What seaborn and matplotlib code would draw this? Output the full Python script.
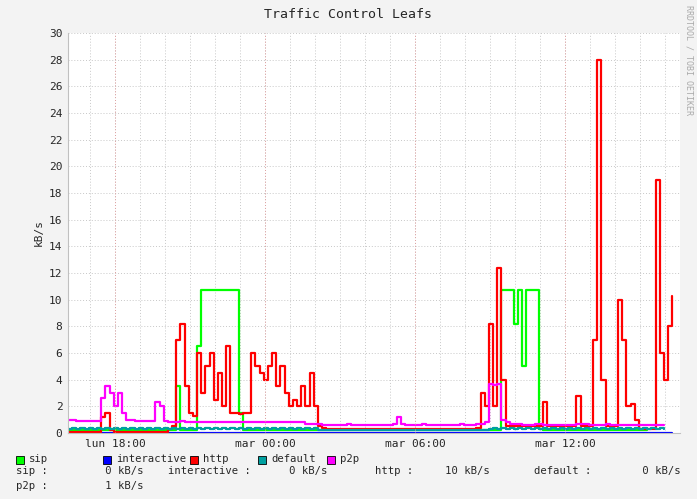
import matplotlib
matplotlib.use("Agg")
import matplotlib.pyplot as plt
import seaborn as sns
import pandas as pd
import numpy as np
from matplotlib.patches import Rectangle

sns.set_style("white")
plt.rcParams['font.family'] = ['DejaVu Sans Mono']

start_hour = 16.12
step_h = 1/6  # 10-minute bins

http = [0.1,0.1,0.1,0.1,0.1,0.1,0.1,0.1,1.2,1.5,0.2,0.1,0.1,0.1,0.1,0.1,0.1,0.1,0.1,0.1,
        0.1,0.1,0.1,0.1,0.3,0.5,7.0,8.2,3.5,1.5,1.3,6.0,3.0,5.0,6.0,2.5,4.5,2.0,6.5,1.5,
        1.5,1.4,1.5,1.5,6.0,5.0,4.5,4.0,5.0,6.0,3.5,5.0,3.0,2.0,2.5,2.0,3.5,2.0,4.5,2.0,
        0.5,0.4,0.3,0.3,0.3,0.3,0.3,0.3,0.3,0.3,0.3,0.3,0.3,0.3,0.3,0.3,0.3,0.3,0.3,0.3,
        0.3,0.3,0.3,0.3,0.3,0.3,0.3,0.3,0.3,0.3,0.3,0.3,0.3,0.3,0.3,0.3,0.3,0.3,0.4,3.0,
        2.0,8.2,2.0,12.4,4.0,0.5,0.5,0.5,0.5,0.5,0.5,0.5,0.5,0.5,2.3,0.5,0.5,0.5,0.5,0.5,
        0.5,0.5,2.8,0.5,0.5,0.5,7.0,28.0,4.0,0.5,0.5,0.5,10.0,7.0,2.0,2.2,1.0,0.3,0.3,0.3,
        0.3,19.0,6.0,4.0,8.0,10.3]
sip = [0.2]*26 + [3.5,0.2,0.2,0.2,0.2,6.5,10.7,10.7,10.7,10.7,10.7,10.7,10.7,10.7,10.7,1.5] \
      + [0.2]*62 + [10.7,10.7,10.7,8.2,10.7,5.0,10.7,10.7,10.7,0.3] + [0.2]*26
p2p = [1.0,1.0,0.9,0.9,0.9,0.9,0.9,0.9,2.6,3.5,3.0,2.0,3.0,1.5,1.0,1.0,0.9,0.9,0.9,0.9,
       0.9,2.3,2.0,0.9,0.8,0.8,0.8,0.9,0.8,0.8,0.8,0.8,0.8,0.8,0.8,0.8,0.8,0.8,0.8,0.8,
       0.8,0.8,0.8,0.8,0.8,0.8,0.8,0.8,0.8,0.8,0.8,0.8,0.8,0.8,0.8,0.8,0.8,0.7,0.7,0.7,
       0.7,0.6,0.6,0.6,0.6,0.6,0.6,0.7,0.6,0.6,0.6,0.6,0.6,0.6,0.6,0.6,0.6,0.6,0.7,1.2,
       0.7,0.6,0.6,0.6,0.6,0.7,0.6,0.6,0.6,0.6,0.6,0.6,0.6,0.6,0.7,0.6,0.6,0.6,0.7,0.7,
       0.8,3.7,3.6,3.7,1.0,0.8,0.7,0.7,0.7,0.6,0.6,0.6,0.7,0.7,0.6,0.6,0.6,0.6,0.6,0.6,
       0.6,0.6,0.7,0.7,0.7,0.6,0.6,0.6,0.6,0.7,0.6,0.6,0.6,0.6,0.6,0.6,0.6,0.6,0.6,0.6,
       0.6,0.6,0.6,0.6]
default = [0.3,0.4,0.3,0.4,0.3,0.4,0.3,0.4,0.3,0.4,0.3,0.4,0.3,0.4,0.3,0.4,0.3,0.4,0.3,0.4,
           0.3,0.4,0.3,0.4,0.3,0.4,0.3,0.4,0.3,0.4,0.3,0.4,0.3,0.4,0.3,0.4,0.3,0.4,0.3,0.4,
           0.3,0.4,0.3,0.4,0.3,0.4,0.3,0.4,0.3,0.4,0.3,0.4,0.3,0.4,0.3,0.4,0.3,0.4,0.3,0.4,
           0.2,0.2,0.2,0.2,0.2,0.2,0.2,0.2,0.2,0.2,0.2,0.2,0.2,0.2,0.2,0.2,0.2,0.2,0.2,0.2,
           0.2,0.2,0.2,0.2,0.2,0.2,0.2,0.2,0.2,0.2,0.2,0.2,0.2,0.2,0.2,0.2,0.2,0.2,0.2,0.2,
           0.2,0.3,0.4,0.3,0.4,0.3,0.4,0.3,0.4,0.3,0.4,0.3,0.4,0.3,0.4,0.3,0.4,0.3,0.4,0.3,
           0.4,0.3,0.4,0.3,0.4,0.3,0.4,0.3,0.4,0.3,0.4,0.3,0.4,0.3,0.4,0.3,0.4,0.3,0.4,0.3,
           0.4,0.3,0.4,0.3]
interactive = [0.02]*len(http)

series_names = ["sip", "interactive", "http", "default", "p2p"]
series_colors = ["#00ff00", "#0000ff", "#ff0000", "#00a0a0", "#ff00ff"]
series_vals = [sip, interactive, http, default, p2p]
legend_text = ["sip :         0 kB/s", "interactive :      0 kB/s", "http :     10 kB/s",
               "default :        0 kB/s", "p2p :         1 kB/s"]
xtick_pos = [18, 24, 30, 36]
xtick_labels = ["lun 18:00", "mar 00:00", "mar 06:00", "mar 12:00"]

rows = []
for name, vals in zip(series_names, series_vals):
    for i, v in enumerate(vals):
        rows.append({"t": start_hour + i*step_h, "v": v, "s": name})
df = pd.DataFrame(rows)

fig = plt.figure(figsize=(6.97, 4.99), dpi=100, facecolor="#f3f3f3")
ax = fig.add_axes([68/697, 66/499, 612/697, 400/499])
ax.set_facecolor("white")
sns.lineplot(data=df, x="t", y="v", hue="s", palette=dict(zip(series_names, series_colors)),
             hue_order=series_names, drawstyle="steps-post", linewidth=1.6, legend=False, ax=ax)

ax.set_xlim(16.12, 40.6)
ax.set_ylim(0, 30)
ax.set_yticks(range(0, 31, 2))
ax.set_xticks(xtick_pos)
ax.set_xticklabels(xtick_labels)
ax.set_xticks(np.arange(17, 41, 1), minor=True)
ax.grid(True, which="both", color="#c8c8c8", linestyle=(0, (1, 2)), linewidth=0.7)
for xp in xtick_pos:
    ax.axvline(xp, color="#e0a0a0", linestyle=(0, (1, 2)), linewidth=0.7)
ax.tick_params(labelsize=8, length=0, pad=4)
ax.set_xlabel("")
ax.set_ylabel("kB/s", fontsize=8)
for s in ["top", "right"]:
    ax.spines[s].set_visible(False)
ax.spines["left"].set_color("#c0c0c0")
ax.spines["bottom"].set_color("#c0c0c0")

fig.text(0.5, 1-14/499, "Traffic Control Leafs", ha="center", va="center", fontsize=9.5)
fig.text(1-8/697, 1-60/499, "RRDTOOL / TOBI OETIKER", rotation=270, ha="center", va="center",
         fontsize=6, color="#aaaaaa")

lx = [16, 103, 190, 258, 327]
for x0, name, c in zip(lx, series_names, series_colors):
    fig.patches.append(Rectangle((x0/697, 1-464/499), 8/697, 8/499, transform=fig.transFigure,
                                 facecolor=c, edgecolor="black", linewidth=0.6))
    fig.text((x0+13)/697, 1-459/499, name, fontsize=7.6, va="center")
vx = [16, 168, 375, 534, 16]
vy = [471, 471, 471, 471, 486]
for x0, y0, t in zip(vx, vy, legend_text):
    fig.text(x0/697, 1-y0/499, t, fontsize=7.6, va="center")

fig.savefig("out.png", dpi=100, facecolor=fig.get_facecolor())
